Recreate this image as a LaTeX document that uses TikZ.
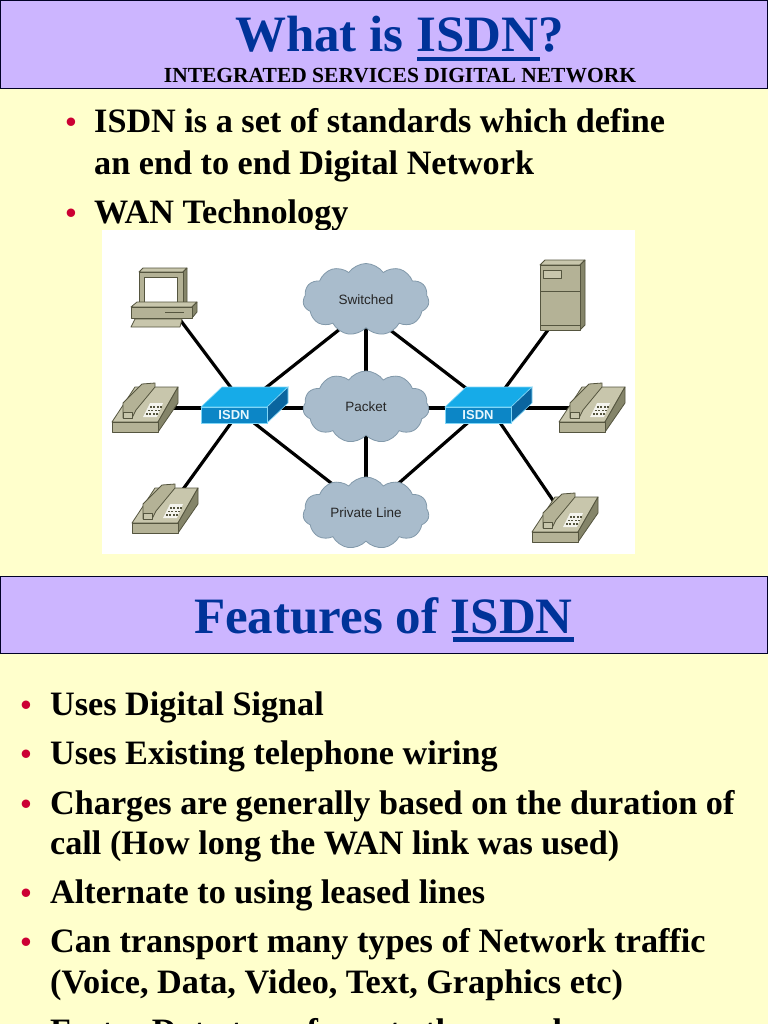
\documentclass[tikz,border=0pt]{standalone}
\usepackage{fontspec}
\setmainfont{Liberation Serif}
\setsansfont{Liberation Sans}
\usetikzlibrary{shapes.symbols}
\definecolor{pagebg}{HTML}{FFFFCC}
\definecolor{bandbg}{HTML}{CCB5FF}
\definecolor{headblue}{HTML}{003399}
\definecolor{dotred}{HTML}{CC0033}
\definecolor{tantop}{HTML}{C8C6AC}
\definecolor{tanfront}{HTML}{B4B296}
\definecolor{tanside}{HTML}{85856A}
\definecolor{tanline}{HTML}{55553F}
\definecolor{cloudbg}{HTML}{A9BCCC}
\definecolor{cloudline}{HTML}{8299AA}
\definecolor{boxtop}{HTML}{16ABE8}
\definecolor{boxfront}{HTML}{0C86C6}
\definecolor{boxside}{HTML}{0A659F}
\tikzset{
  band/.style={draw=black!85!blue,fill=bandbg,line width=1pt},
  head/.style={anchor=base,inner sep=0pt,text=headblue,font=\fontsize{51}{51}\bfseries\selectfont},
  uline/.style={fill=headblue},
  line1/.style={anchor=base west,inner sep=0pt,font=\fontsize{34.2}{35}\bfseries\selectfont},
  dot/.style={anchor=base,inner sep=0pt,text=dotred,font=\fontsize{31}{32}\bfseries\selectfont},
  link/.style={line width=3.2pt,black},
  part/.style={draw=tanline,line width=.8pt,line join=round},
  netcloud/.style={shape=cloud,cloud puffs=11,cloud puff arc=110,aspect=1.75,draw=cloudline,fill=cloudbg,
    line width=.8pt,inner sep=0pt,minimum width=126pt,minimum height=72pt,text=black!85,
    font=\sffamily\fontsize{13.5}{14}\selectfont},
  pics/isdnbox/.style={code={
    \path[fill=boxtop,draw=cyan!50,line width=.6pt] (-43,2) -- (-22,-18) -- (44,-18) -- (23,2) -- cycle;
    \path[fill=boxside,draw=cyan!50,line width=.6pt] (23,2) -- (44,-18) -- (44,-2) -- (23,18) -- cycle;
    \path[fill=boxfront,draw=cyan!50,line width=.6pt] (-43,2) rectangle (23,18);
    \node[text=white!90!cyan,font=\sffamily\bfseries\fontsize{13}{13}\selectfont] (-label) at (-10,10) {ISDN};
  }},
  pics/phone/.style={code={
    \path[part,fill=tantop] (-33,14) -- (-10,-21) -- (33,-21) -- (13,14) -- cycle;
    \path[part,fill=tanside] (13,14) -- (33,-21) -- (33,-5) -- (13,24) -- cycle;
    \path[part,fill=tanfront] (-33,14) rectangle (13,24);
    \path[part,fill=tanfront] (-22,-5) -- (-3,-24) -- (10,-25) -- (10,-21) -- (-9,2) -- (-13,10) -- (-22,10) -- cycle;
    \path[part,fill=tantop] (-22,4) rectangle (-13,10);
    \path[fill=white!80!tantop] (-2,9) -- (5,-5) -- (18,-5) -- (12,9) -- cycle;
    \foreach \a in {0,1,2,3} \foreach \b in {0,1,2}
      \fill[tanline] ({1+\a*3.4+(2-\b)*2},{-2+\b*3.6}) rectangle ++(2,1.5);
  }},
  pics/desktop/.style={code={
    \path[part,fill=tantop] (139,272) -- (143,268) -- (187,268) -- (183,272) -- cycle;
    \path[part,fill=tanside] (183,272) -- (187,268) -- (187,302) -- (183,305) -- cycle;
    \path[part,fill=tanfront] (139,272) rectangle (183,305);
    \path[part,fill=white] (144,277) rectangle (177,302);
    \path[part,fill=tantop] (131,307) -- (137,302) -- (197,302) -- (192,307) -- cycle;
    \path[part,fill=tanside] (192,307) -- (197,302) -- (197,312) -- (192,318) -- cycle;
    \path[part,fill=tanfront] (131,307) rectangle (192,318);
    \draw[tanline,line width=1pt] (165,312) -- (184,312);
    \path[part,fill=tantop] (131,327) -- (135,319) -- (182,319) -- (180,327) -- cycle;
  }},
  pics/tower/.style={code={
    \path[part,fill=tantop] (540,265) -- (545,260) -- (585,260) -- (580,265) -- cycle;
    \path[part,fill=tanside] (580,265) -- (585,260) -- (585,325) -- (580,330) -- cycle;
    \path[part,fill=tanfront] (540,265) rectangle (580,330);
    \path[part,fill=tantop] (543,270) rectangle (561,278);
    \draw[tanline] (540,291) -- (580,291);
    \draw[tanline] (540,325) -- (580,325);
  }}
}

\begin{document}
\begin{tikzpicture}[x=1pt,y=-1pt]
  \useasboundingbox (0,0) rectangle (768,1024);
  \clip (0,0) rectangle (768,1024);
  \fill[pagebg] (0,0) rectangle (768,1024);
  % top title
  \path[band] (.5,1) rectangle (767.5,89);
  \node[head] (title) at (399.5,52) {What is ISDN?};
  \fill[uline] (417,57) rectangle (540,61);
  \node[anchor=base,inner sep=0pt,font=\fontsize{21.5}{22}\bfseries\selectfont] (subtitle) at (400,83) {INTEGRATED SERVICES DIGITAL NETWORK};
  % upper list
  \foreach \n/\y in {d1/133,d2/223}
    \node[dot] (\n) at (71,\y) {•};
  \node[line1] (t1) at (94,133) {ISDN is a set of standards which define};
  \node[line1] (t2) at (94,175) {an end to end Digital Network};
  \node[line1] (t3) at (94,223) {WAN Technology};
  % network picture
  \fill[white] (102,230) rectangle (635,554);
  \coordinate (isdnA) at (244,405);
  \coordinate (isdnAmid) at (244,408);
  \coordinate (isdnB) at (488,405);
  \coordinate (isdnBmid) at (488,408);
  \coordinate (isdnAlow) at (231,405);
  \coordinate (isdnBup) at (492.6,405);
  \coordinate (pc) at (163,297);
  \coordinate (srv) at (573,296);
  \coordinate (phA) at (145,408);
  \coordinate (phB) at (168,510);
  \coordinate (phC) at (592,408);
  \coordinate (phD) at (565,518);
  \coordinate (hubS) at (364,310);
  \coordinate (hubU) at (366,300);
  \coordinate (hubP) at (366,408);
  \coordinate (hubL) at (367,511);
  \draw[link] (isdnA) -- (pc);
  \draw[link] (isdnAmid) -- (phA);
  \draw[link] (isdnA) -- (phB);
  \draw[link] (isdnA) -- (hubS);
  \draw[link] (isdnAmid) -- (hubP);
  \draw[link] (isdnAlow) -- (hubL);
  \draw[link] (isdnB) -- (hubS);
  \draw[link] (isdnBmid) -- (hubP);
  \draw[link] (isdnB) -- (hubL);
  \draw[link] (isdnBup) -- (srv);
  \draw[link] (isdnBmid) -- (phC);
  \draw[link] (isdnB) -- (phD);
  \draw[link] (hubU) -- (hubP);
  \draw[link] (hubP) -- (366,511);
  \node[netcloud] (switched) at (366,299.5) {Switched};
  \node[netcloud] (packet) at (366,407) {Packet};
  \node[netcloud] (private) at (366,513) {Private Line};
  \pic at (0,0) {desktop};
  \pic at (0,0) {tower};
  \pic at (145,408) {phone};
  \pic at (165,509) {phone};
  \pic at (592,408) {phone};
  \pic at (565,518) {phone};
  \pic (boxA) at (isdnA) {isdnbox};
  \pic (boxB) at (isdnB) {isdnbox};
  % lower title
  \path[band] (.5,576) rectangle (767.5,653);
  \node[head] (title2) at (383.5,633) {Features of ISDN};
  \fill[uline] (453,637) rectangle (574,642);
  % lower list
  \foreach \n/\y in {e1/715,e2/764,e3/814,e4/903,e5/952,e6/1042}
    \node[dot] (\n) at (26,\y) {•};
  \foreach \n/\y/\t in {u1/715/{Uses Digital Signal},
    u2/764/{Uses Existing telephone wiring},
    u3/814/{Charges are generally based on the duration of},
    u4/854/{call (How long the WAN link was used)},
    u5/903/{Alternate to using leased lines},
    u6/952/{Can transport many types of Network traffic},
    u7/993/{(Voice, Data, Video, Text, Graphics etc)},
    u8/1042/{Faster Data transfer rate than analog}}
    \node[line1] (\n) at (50,\y) {\t};
\end{tikzpicture}
\end{document}
